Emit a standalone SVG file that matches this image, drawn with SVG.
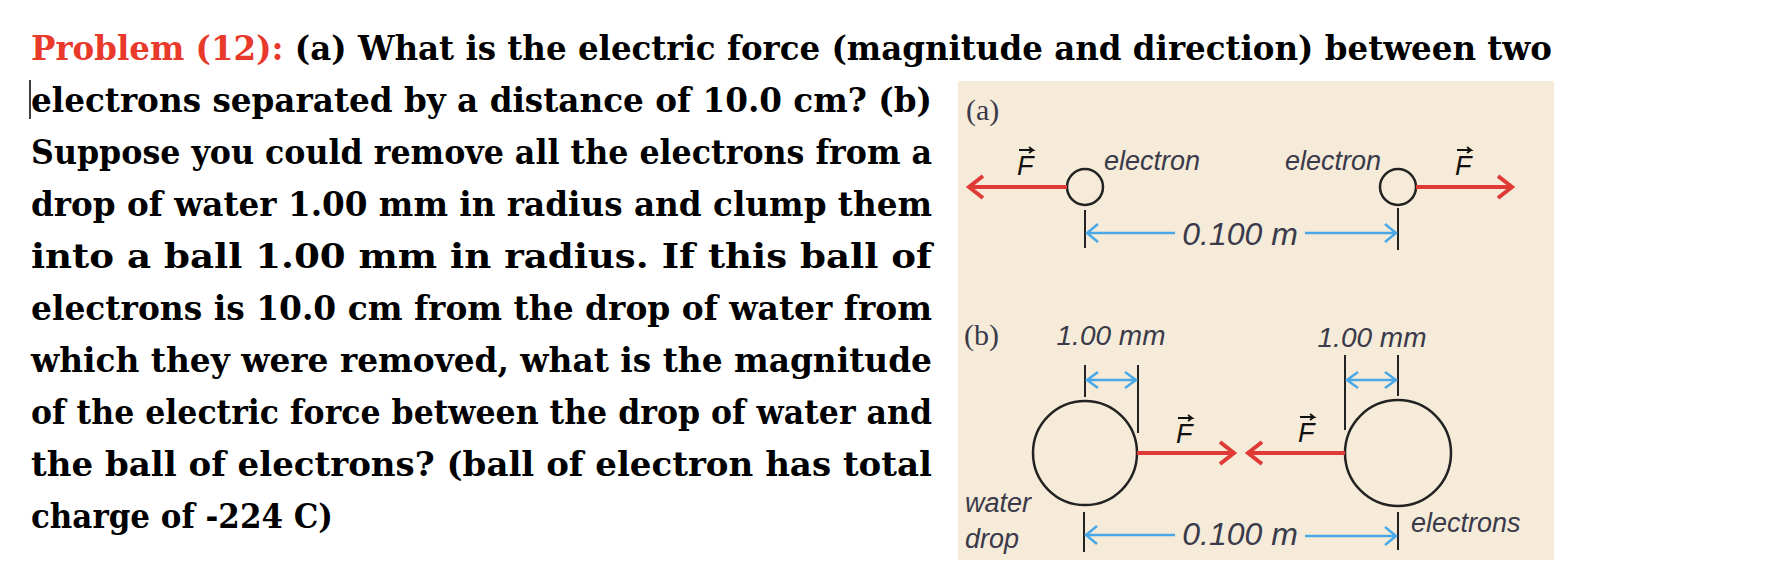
<svg xmlns="http://www.w3.org/2000/svg" width="1774" height="578" viewBox="0 0 1774 578">
<style>
.q{font-family:"DejaVu Serif",serif;font-weight:bold;font-size:33px;fill:#000}
.fig{font-family:"Liberation Sans",Arial,sans-serif;font-style:italic;fill:#3a3a4a}
.lab{font-family:"Liberation Serif",serif;font-size:30px;fill:#3a3a4a}
.F{font-family:"Liberation Sans",Arial,sans-serif;font-style:italic;font-size:27px;fill:#111}
.red{stroke:#e03a36;stroke-width:4;fill:none}
.blue{stroke:#4aa8e8;stroke-width:2.5;fill:none}
.tick{stroke:#222;stroke-width:2;fill:none}
.ball{stroke:#222;stroke-width:2.5;fill:none}
.vec{stroke:#111;stroke-width:1.8;fill:none}
</style>
<rect width="1774" height="578" fill="#fff"/>
<g id="question">
<text class="q" x="31" y="60" textLength="1521" lengthAdjust="spacingAndGlyphs"><tspan fill="#e8392b">Problem (12):</tspan> (a) What is the electric force (magnitude and direction) between two</text>
<line x1="30" y1="80" x2="30" y2="119" stroke="#000" stroke-width="1.5"/>
<text class="q" x="31" y="112" textLength="901" lengthAdjust="spacingAndGlyphs">electrons separated by a distance of 10.0 cm? (b)</text>
<text class="q" x="31" y="164" textLength="901" lengthAdjust="spacingAndGlyphs">Suppose you could remove all the electrons from a</text>
<text class="q" x="31" y="216" textLength="901" lengthAdjust="spacingAndGlyphs">drop of water 1.00 mm in radius and clump them</text>
<text class="q" x="31" y="268" textLength="901" lengthAdjust="spacingAndGlyphs">into a ball 1.00 mm in radius. If this ball of</text>
<text class="q" x="31" y="320" textLength="901" lengthAdjust="spacingAndGlyphs">electrons is 10.0 cm from the drop of water from</text>
<text class="q" x="31" y="372" textLength="901" lengthAdjust="spacingAndGlyphs">which they were removed, what is the magnitude</text>
<text class="q" x="31" y="424" textLength="901" lengthAdjust="spacingAndGlyphs">of the electric force between the drop of water and</text>
<text class="q" x="31" y="476" textLength="901" lengthAdjust="spacingAndGlyphs">the ball of electrons? (ball of electron has total</text>
<text class="q" x="31" y="528" textLength="302" lengthAdjust="spacingAndGlyphs">charge of -224 C)</text>
</g>
<rect id="panel" x="958" y="81" width="596" height="479" fill="#f5ebd8"/>
<g id="nodes">
<g id="labels">
<text class="lab" x="966" y="120">(a)</text>
<text class="lab" x="964" y="345">(b)</text>
</g>
<g id="electron-left"><circle class="ball" cx="1085" cy="187" r="18"/><text class="fig" x="1104" y="170" font-size="27">electron</text></g>
<g id="electron-right"><circle class="ball" cx="1398" cy="187" r="18"/><text class="fig" x="1381" y="170" font-size="27" text-anchor="end">electron</text></g>
<g id="water-drop"><circle class="ball" cx="1085" cy="453" r="52"/><text class="fig" x="965" y="512" font-size="27">water</text><text class="fig" x="965" y="548" font-size="27">drop</text></g>
<g id="electron-ball"><circle class="ball" cx="1398" cy="453" r="53"/><text class="fig" x="1411" y="532" font-size="27">electrons</text></g>
<g id="dims-text">
<text class="fig" x="1240" y="245" font-size="32" text-anchor="middle">0.100 m</text>
<text class="fig" x="1240" y="545" font-size="32" text-anchor="middle">0.100 m</text>
<text class="fig" x="1111" y="345" font-size="28" text-anchor="middle">1.00 mm</text>
<text class="fig" x="1372" y="347" font-size="28" text-anchor="middle">1.00 mm</text>
</g>
<g id="forces-text">
<text class="F" x="1017" y="175">F</text><path class="vec" d="M1019 150h14l-4-3M1033 150l-4 3"/>
<text class="F" x="1455" y="175">F</text><path class="vec" d="M1457 150h14l-4-3M1471 150l-4 3"/>
<text class="F" x="1176" y="443">F</text><path class="vec" d="M1178 418h14l-4-3M1192 418l-4 3"/>
<text class="F" x="1298" y="442">F</text><path class="vec" d="M1300 417h14l-4-3M1314 417l-4 3"/>
</g>
</g>
<g id="connectors">
<path class="red" d="M1067 187H969M983 176l-14 11 14 11"/>
<path class="red" d="M1416 187H1512M1498 176l14 11-14 11"/>
<path class="red" d="M1137 453H1234M1220 442l14 11-14 11"/>
<path class="red" d="M1345 453H1248M1262 442l-14 11 14 11"/>
<path class="tick" d="M1085 210V248M1398 208V250M1085 365V397M1138 365V433M1345 355V430M1398 355V396M1084 512V552M1398 512V550"/>
<path class="blue" d="M1087 233H1175M1098 224l-11 9 11 9M1305 233H1396M1385 224l11 9-11 9"/>
<path class="blue" d="M1086 535H1175M1097 526l-11 9 11 9M1305 536H1396M1385 527l11 9-11 9"/>
<path class="blue" d="M1087 380H1136M1098 372l-11 8 11 8M1125 372l11 8-11 8"/>
<path class="blue" d="M1347 380H1396M1358 372l-11 8 11 8M1385 372l11 8-11 8"/>
</g>
</svg>
